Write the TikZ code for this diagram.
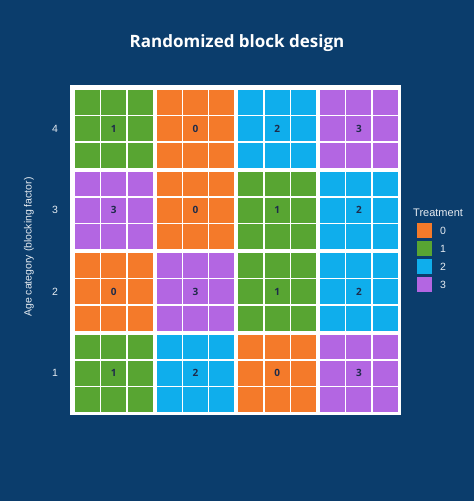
\documentclass[tikz,border=0pt]{standalone}
\usepackage{fontspec}
\setmainfont{Liberation Sans}
\newfontfamily\titlefont{Open Sans}
\definecolor{bg}{HTML}{0B3D6C}
\definecolor{tz}{HTML}{F47A2A}
\definecolor{to}{HTML}{58A532}
\definecolor{tt}{HTML}{0FAEEC}
\definecolor{tr}{HTML}{B366E2}
\definecolor{numc}{HTML}{1E2B4A}
\definecolor{lbl}{HTML}{E6ECF2}
\begin{document}
\begin{tikzpicture}[x=1pt,y=-1pt,
  numlbl/.style={font=\titlefont\bfseries\fontsize{10}{11}\selectfont,text=numc,inner sep=0pt},
  rowlbl/.style={font=\fontsize{10.5}{12}\selectfont,text=lbl,inner sep=0pt},
  legbox/.style={fill=#1,minimum width=15pt,minimum height=15pt,inner sep=0pt}]
\fill[bg] (0,0) rectangle (474,501);
\useasboundingbox (0,0) rectangle (474,501);
\node[font=\titlefont\bfseries\fontsize{17}{19}\selectfont,text=white] (title) at (237,43) {Randomized block design};
\fill[white] (70,85) rectangle (401,415);
% rows: r=0 top (category 4)
\foreach \r/\lst in {0/{1,0,2,3},1/{3,0,1,2},2/{0,3,1,2},3/{1,2,0,3}}{
  \foreach \t [count=\c from 0] in \lst {
    \pgfmathsetmacro{\bx}{75+\c*81.7}
    \pgfmathsetmacro{\by}{90+\r*81.5}
    \ifcase\t \def\col{tz}\or\def\col{to}\or\def\col{tt}\or\def\col{tr}\fi
    \foreach \i in {0,1,2}{\foreach \j in {0,1,2}{
      \fill[\col] ({\bx+\i*26.3},{\by+\j*26.3}) rectangle ++(24.9,24.9);
    }}
    \node[numlbl] (n\r\c) at ({\bx+38.8},{\by+38.8}) {\t};
  }
}
\foreach \r/\k in {0/4,1/3,2/2,3/1}{
  \node[rowlbl] (row\k) at (55,{128.8+\r*81.5}) {\k};
}
\node[rowlbl,rotate=90] (ylab) at (29,247) {Age category (blocking factor)};
\node[rowlbl,anchor=west,font=\fontsize{11}{13}\selectfont] (legt) at (413,213) {Treatment};
\foreach \t/\c [count=\n from 0] in {0/tz,1/to,2/tt,3/tr}{
  \node[legbox=\c] (lb\t) at (424.5,{230.5+\n*18}) {};
  \node[rowlbl,anchor=west] (lt\t) at (440,{230.5+\n*18}) {\t};
}
\end{tikzpicture}
\end{document}
